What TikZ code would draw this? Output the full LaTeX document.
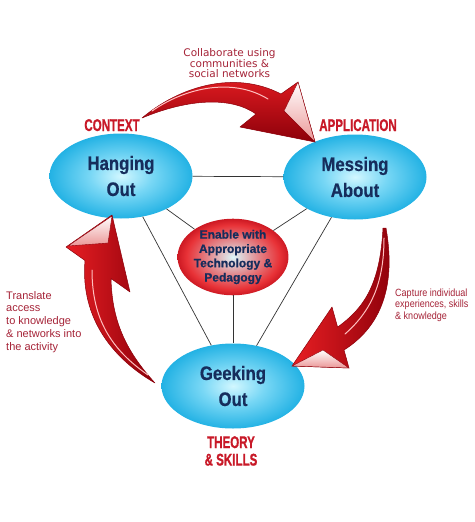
\documentclass[tikz,border=0pt]{standalone}
\usepackage{fontspec}
\setmainfont{Liberation Sans}
\newfontfamily\tagfont[FakeStretch=0.68, FakeBold=0.8]{Liberation Sans Bold}
\newfontfamily\bubblefont[FakeStretch=0.86, FakeBold=0.6]{Liberation Sans Bold}
\newfontfamily\corefont[FakeBold=0.8]{Liberation Sans Bold}
\newfontfamily\widefont{DejaVu Sans}
\newfontfamily\narrowfont[FakeStretch=0.86]{Liberation Sans}
\usetikzlibrary{shapes.geometric}
\definecolor{navytext}{RGB}{22,45,92}
\definecolor{tagred}{RGB}{200,25,40}
\definecolor{notered}{RGB}{165,35,55}
\definecolor{bubblein}{RGB}{210,247,255}
\definecolor{bubblemid}{RGB}{120,215,245}
\definecolor{bubbleout}{RGB}{35,178,228}
\definecolor{corein}{RGB}{220,246,250}
\definecolor{coreout}{RGB}{232,50,55}
\definecolor{coredark}{RGB}{205,25,35}
\definecolor{arrowred}{RGB}{232,30,35}
\definecolor{arrowdark}{RGB}{140,0,10}
\definecolor{arrowpink}{RGB}{235,150,150}
\pgfdeclareradialshading{bubbleshade}{\pgfpoint{0bp}{0bp}}{color(0bp)=(bubblein); color(11bp)=(bubblemid); color(25bp)=(bubbleout); color(50bp)=(bubbleout)}
\pgfdeclareradialshading{coreshade}{\pgfpoint{0bp}{0bp}}{color(0bp)=(corein); color(11bp)=(corein!45!coreout); color(21bp)=(coreout); color(25bp)=(coredark); color(50bp)=(coredark)}
\begin{document}
\begin{tikzpicture}[
            x = 1pt, y = -1pt,
bubble/.style = {ellipse, minimum width=143pt, minimum height=85pt,
                 inner sep=0pt, shading=bubbleshade, align=center, text=navytext,
                 font=\bubblefont\fontsize{19.5}{26}\selectfont},
  core/.style = {ellipse, minimum width=100pt, minimum height=76pt,
                 inner sep=0pt, shading=coreshade, align=center, text=navytext,
                 font=\corefont\fontsize{12}{14.3}\selectfont},
  link/.style = {draw=black!80, line width=0.7pt},
   tag/.style = {inner sep=0pt, text=tagred,
                 font=\tagfont\fontsize{17}{17.5}\selectfont},
  note/.style = {inner sep=0pt, text=notered},
  body/.style = {draw=arrowdark, line width=0.5pt, line join=round},
  face/.style = {top color=white, bottom color=arrowpink, draw=arrowdark, line width=0.4pt},
 shine/.style = {draw=red!25!white, line width=1pt, line cap=round}
                        ]
\useasboundingbox (0,0) rectangle (474,522);
% bubbles
    \node[bubble] (hang) at (121,176) {Hanging\\Out};
    \node[bubble] (mess) at (355,177) {Messing\\About};
    \node[bubble] (geek) at (233,386) {Geeking\\Out};
    \node[core]   (core) at (233,257) {Enable with\\Appropriate\\Technology \&\\Pedagogy};
% links
    \draw[link] (hang) -- (mess);
    \draw[link] (hang) -- (core);
    \draw[link] (mess) -- (core);
    \draw[link] (hang) -- (geek);
    \draw[link] (mess) -- (geek);
    \draw[link] (core) -- (geek);
% tags
    \node[tag, anchor=base] (context) at (112,131) {CONTEXT};
    \node[tag, anchor=base] (application) at (358,131) {APPLICATION};
    \node[tag, anchor=north, align=center] (theory) at (231,436) {THEORY\\\& SKILLS};
% notes
    \node[note, anchor=north, align=center, font=\widefont\fontsize{10.5}{10}\selectfont]
        (collab) at (229.5,48) {Collaborate using\\communities \&\\social networks};
    \node[note, anchor=north west, align=left, font=\fontsize{11}{12.8}\selectfont]
        (translate) at (6,291) {Translate\\access\\to knowledge\\\& networks into\\the activity};
    \node[note, anchor=north west, align=left, font=\narrowfont\fontsize{10.5}{11.5}\selectfont]
        (capture) at (395,288.5) {Capture individual\\experiences, skills\\\& knowledge};
% arrows
    % context -> application
    \path[body, top color=arrowred, bottom color=arrowdark]
        (142,118) .. controls (180,86) and (235,70) .. (281,94)
        -- (298,82) -- (315,142) -- (240,127) -- (256,114)
        .. controls (232,97) and (190,98) .. (142,118) -- cycle;
    \draw[shine] (152,111) .. controls (185,88) and (232,77) .. (268,99);
    \path[face] (298,82) -- (315,142) -- (284,111) -- cycle;
    % application -> theory
    \path[body, left color=arrowred, right color=arrowdark]
        (383,228) .. controls (380,285) and (364,308) .. (337.6,327.1)
        -- (332,307) -- (292,366) -- (349,368) -- (344,350)
        .. controls (382,326) and (396,285) .. (386,228) -- cycle;
    \draw[shine] (384,238) .. controls (384,285) and (370,312) .. (345,334);
    \path[face] (292,366) -- (349,368) -- (323,350) -- cycle;
    % theory -> context
    \path[body, left color=arrowred, right color=arrowdark]
        (155,383) .. controls (125,350) and (112,320) .. (111,278.5)
        -- (130,292) -- (112,215) -- (66,247) -- (85,260.5)
        .. controls (80,320) and (115,360) .. (155,383) -- cycle;
    \draw[shine] (148,375) .. controls (112,350) and (92,320) .. (92,270);
    \path[face] (68,246) -- (112,216) -- (108,243) -- cycle;
\end{tikzpicture}
\end{document}
